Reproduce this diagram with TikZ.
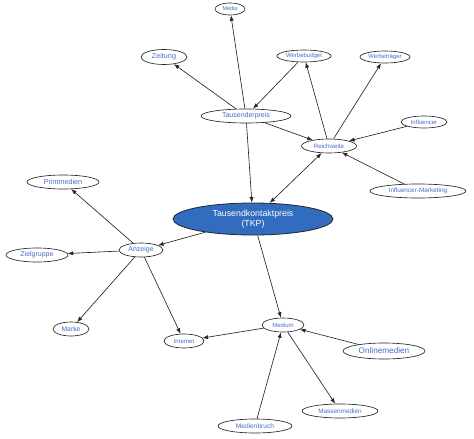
\documentclass[tikz,border=0pt]{standalone}
\usepackage{fontspec}
\setmainfont{Liberation Sans}
\usetikzlibrary{shapes.geometric,arrows.meta}
\definecolor{txtblue}{RGB}{70,110,200}
\definecolor{tkpfill}{RGB}{50,108,190}
\newcommand{\fs}[1]{\fontsize{#1}{#1}\selectfont}
\begin{document}
\begin{tikzpicture}[x=1pt,y=-1pt,
  el/.style={ellipse,draw=black!85,line width=0.65pt,fill=white,inner sep=0pt,text=txtblue,font=\fs{6.5}},
  arr/.style={-{Latex[length=5.5pt,width=4.2pt]},line width=0.65pt,black!85},
  darr/.style={{Latex[length=5.5pt,width=4.2pt]}-{Latex[length=5.5pt,width=4.2pt]},line width=0.65pt,black!85}]
\useasboundingbox (0,0) rectangle (474,439);
\node[el,font=\fs{5.5},minimum width=30,minimum height=12] (media) at (230,9) {Media};
\node[el,font=\fs{7.2},minimum width=46,minimum height=15] (zeitung) at (164,57) {Zeitung};
\node[el,font=\fs{6},minimum width=54,minimum height=12] (budget) at (304,56) {Werbebudget};
\node[el,font=\fs{6},minimum width=50,minimum height=12] (traeger) at (385,57) {Werbeträger};
\node[el,font=\fs{7},minimum width=90,minimum height=14] (tp) at (246,116) {Tausenderpreis};
\node[el,font=\fs{6.2},minimum width=55,minimum height=14] (reich) at (329,146) {Reichweite};
\node[el,font=\fs{6},minimum width=46,minimum height=12] (infl) at (424,122) {Influencer};
\node[el,font=\fs{6.4},minimum width=96,minimum height=14] (inflm) at (418,191) {Influencer-Marketing};
\node[ellipse,draw=black!85,line width=0.8pt,fill=tkpfill,text=white,inner sep=0pt,minimum width=160,minimum height=32,align=center,font=\fs{8.8}] (tkp) at (253,219) {Tausendkontaktpreis\\[1pt](TKP)};
\node[el,font=\fs{7.2},minimum width=72,minimum height=14] (print) at (63,182) {Printmedien};
\node[el,font=\fs{7},minimum width=62,minimum height=14] (ziel) at (37,255) {Zielgruppe};
\node[el,font=\fs{7},minimum width=44,minimum height=14] (anz) at (141,250) {Anzeige};
\node[el,font=\fs{6.8},minimum width=36,minimum height=14] (marke) at (71,329) {Marke};
\node[el,font=\fs{6},minimum width=40,minimum height=14] (inet) at (184,341) {Internet};
\node[el,font=\fs{6},minimum width=42,minimum height=14] (medium) at (283,325) {Medium};
\node[el,font=\fs{8.2},minimum width=82,minimum height=16] (online) at (384,351) {Onlinemedien};
\node[el,font=\fs{6.4},minimum width=76,minimum height=14] (massen) at (340,411) {Massenmedien};
\node[el,font=\fs{6.6},minimum width=74,minimum height=14] (bruch) at (255,426) {Medienbruch};
\draw[arr] (tp) -- (media);
\draw[arr] (tp) -- (zeitung);
\draw[arr] (budget) -- (tp);
\draw[arr] (tp) -- (reich);
\draw[arr] (tp) -- (tkp);
\draw[arr] (reich) -- (budget);
\draw[arr] (reich) -- (traeger);
\draw[arr] (infl) -- (reich);
\draw[arr] (inflm) -- (reich);
\draw[darr] (tkp) -- (reich);
\draw[arr] (tkp) -- (anz);
\draw[arr] (anz) -- (print);
\draw[arr] (anz) -- (ziel);
\draw[arr] (anz) -- (marke);
\draw[arr] (anz) -- (inet);
\draw[arr] (tkp) -- (medium);
\draw[arr] (medium) -- (inet);
\draw[arr] (online) -- (medium);
\draw[arr] (medium) -- (massen);
\draw[arr] (bruch) -- (medium);
\end{tikzpicture}
\end{document}
